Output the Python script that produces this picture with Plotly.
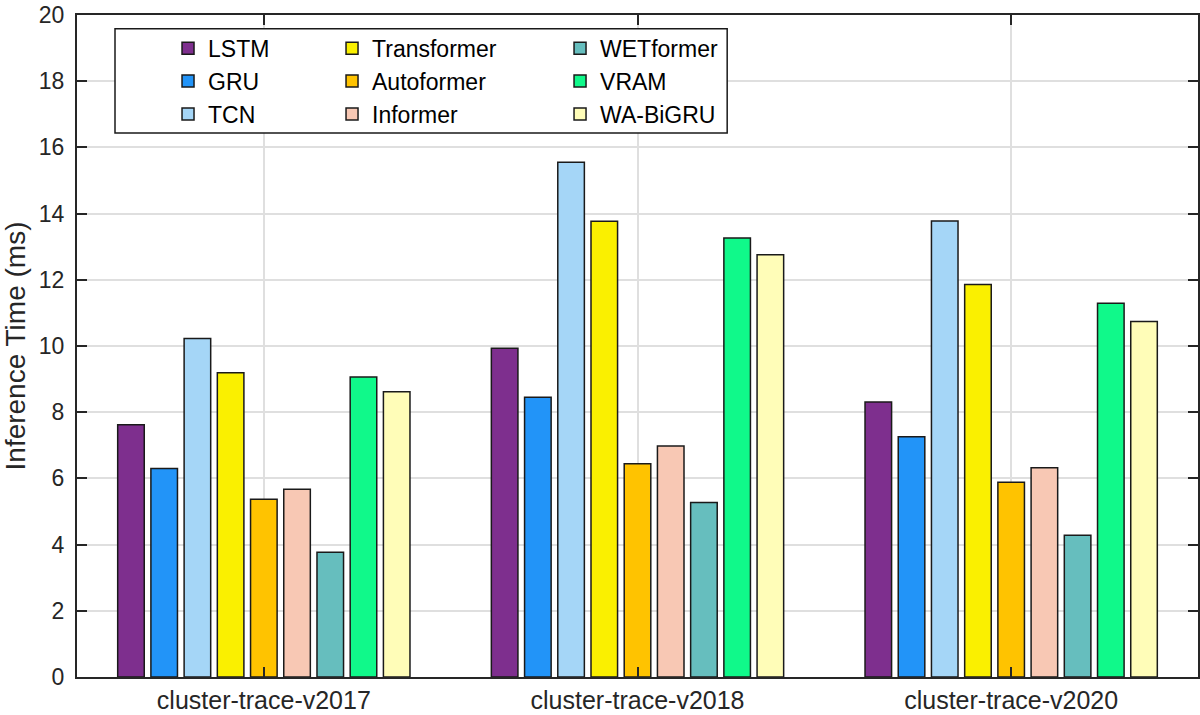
import plotly.graph_objects as go

categories = ["cluster-trace-v2017", "cluster-trace-v2018", "cluster-trace-v2020"]
models = ["LSTM", "GRU", "TCN", "Transformer", "Autoformer", "Informer", "WETformer", "VRAM", "WA-BiGRU"]

lstm = [7.62, 9.93, 8.31]
gru = [6.30, 8.45, 7.26]
tcn = [10.23, 15.55, 13.78]
transformer = [9.19, 13.77, 11.86]
autoformer = [5.37, 6.44, 5.88]
informer = [5.67, 6.98, 6.32]
wetformer = [3.77, 5.27, 4.28]
vram = [9.06, 13.26, 11.29]
wa_bigru = [8.62, 12.76, 10.74]

y_ticks = [0, 2, 4, 6, 8, 10, 12, 14, 16, 18, 20]

series = [lstm, gru, tcn, transformer, autoformer, informer, wetformer, vram, wa_bigru]
colors = ["#7E2F8E", "#2294F8", "#A5D6F7", "#FAF000", "#FFC300",
          "#F8C8B4", "#66BEBE", "#10F98A", "#FFFDB8"]
legend_ids = ["legend", "legend", "legend", "legend2", "legend2", "legend2",
              "legend3", "legend3", "legend3"]

FONT = "Liberation Sans, Arial, sans-serif"
AX = "#262626"

fig = go.Figure()
for name, vals, col, lg in zip(models, series, colors, legend_ids):
    fig.add_trace(go.Bar(
        x=categories, y=vals, name=name, legend=lg,
        marker=dict(color=col, line=dict(color="#1a1a1a", width=1.5)),
    ))

legend_common = dict(
    orientation="v", xanchor="left", yanchor="top",
    bgcolor="rgba(255,255,255,0)", borderwidth=0,
    font=dict(family=FONT, size=23, color="#000000"),
    tracegroupgap=0, itemwidth=30,
)

fig.update_layout(
    width=1200, height=715,
    margin=dict(l=77, r=2, t=15, b=38, autoexpand=False),
    paper_bgcolor="white", plot_bgcolor="white",
    barmode="group", bargap=0.2, bargroupgap=0.2,
    font=dict(family=FONT, color=AX),
    legend=dict(x=0.0812, y=0.9823, **legend_common),
    legend2=dict(x=0.2275, y=0.9823, **legend_common),
    legend3=dict(x=0.4309, y=0.9823, **legend_common),
    shapes=[dict(type="rect", xref="paper", yref="paper",
                 x0=0.0339, x1=0.580, y0=0.8216, y1=0.9793,
                 fillcolor="white", line=dict(color="#1a1a1a", width=1.5),
                 layer="above")],
)

fig.update_xaxes(
    automargin=False,
    showline=True, linecolor=AX, linewidth=1.5, mirror="ticks",
    ticks="inside", ticklen=10, tickwidth=1.5, tickcolor=AX,
    showgrid=True, gridcolor="#DFDFDF", gridwidth=1.5,
    ticklabeloverflow="allow",
    tickfont=dict(family=FONT, size=25, color=AX),
)
fig.update_yaxes(
    automargin=False,
    range=[0, 20], tickmode="array", tickvals=y_ticks,
    ticktext=[str(v) + "\u00a0" for v in y_ticks],
    showline=True, linecolor=AX, linewidth=1.5, mirror="ticks",
    ticks="inside", ticklen=10, tickwidth=1.5, tickcolor=AX,
    showgrid=True, gridcolor="#DFDFDF", gridwidth=1.5,
    zeroline=False, ticklabeloverflow="allow",
    tickfont=dict(family=FONT, size=23, color=AX),
    title=dict(text="Inference Time (ms)", font=dict(family=FONT, size=28, color=AX), standoff=5),
)

fig.write_html("out.html", post_script="document.body.style.margin='0';",
               config={"displayModeBar": False})
